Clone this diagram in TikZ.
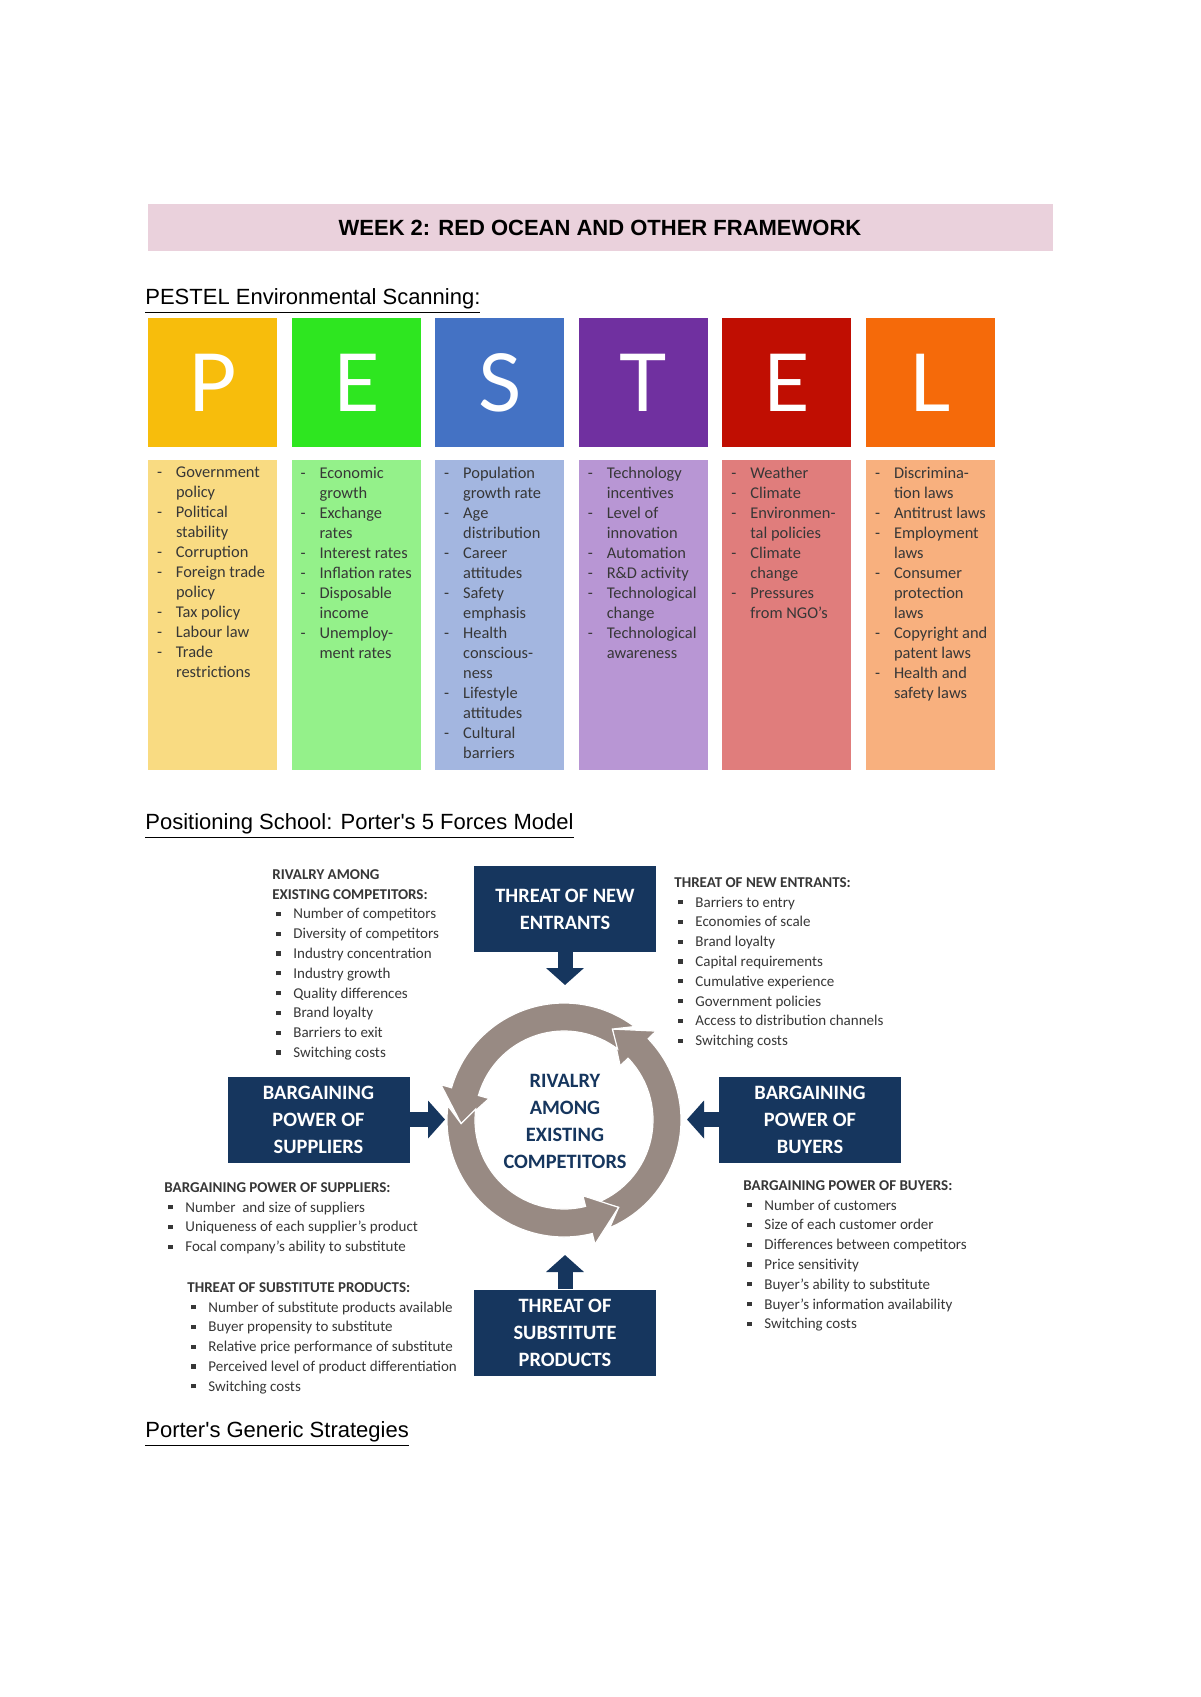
\documentclass[tikz,border=0pt]{standalone}
\usepackage{fontspec}
\setmainfont{Carlito}
\newfontfamily\arialf{Liberation Sans}
\newfontfamily\letterf{Lato}
\usepackage{tikz}
\usetikzlibrary{arrows.meta,positioning}

\definecolor{banner}{RGB}{234,209,220}
\definecolor{ptop}{RGB}{247,189,12}
\definecolor{etop}{RGB}{46,230,32}
\definecolor{stop}{RGB}{68,114,196}
\definecolor{ttop}{RGB}{112,48,160}
\definecolor{envtop}{RGB}{192,14,2}
\definecolor{ltop}{RGB}{245,106,10}
\definecolor{plow}{RGB}{249,219,130}
\definecolor{elow}{RGB}{148,241,138}
\definecolor{slow}{RGB}{163,182,224}
\definecolor{tlow}{RGB}{184,150,212}
\definecolor{envlow}{RGB}{224,125,124}
\definecolor{llow}{RGB}{248,176,126}
\definecolor{navy}{RGB}{22,54,94}
\definecolor{ringgray}{RGB}{152,138,131}
\definecolor{listgray}{RGB}{55,55,55}

\newcommand\pdash{\makebox[9.5pt][l]{-}}
\newcommand\pcont{\hspace*{9.5pt}}
\newcommand\pbul{\hspace*{2pt}\makebox[8.5pt][l]{\raisebox{1.4pt}{\rule{2.1pt}{2.1pt}}}}

\begin{document}
\begin{tikzpicture}[x=0.5pt,y=-0.5pt,>=Latex,node distance=6pt and 6.9pt,
 titlebar/.style={fill=banner,minimum width=452.5pt,minimum height=23.5pt,inner sep=0pt,font=\arialf\bfseries\fontsize{11}{13}\selectfont},
 heading/.style={anchor=west,inner sep=0pt,font=\arialf\fontsize{11}{13}\selectfont},
 lettbox/.style={minimum width=64.5pt,minimum height=64.5pt,inner sep=0pt,text=white,font=\letterf\fontsize{40}{40}\selectfont},
 listbox/.style={minimum width=64.5pt,minimum height=155pt,inner sep=0pt},
 plist/.style={align=left,inner sep=0pt,text=listgray,font=\fontsize{8.2}{10}\selectfont},
 forcebox/.style={fill=navy,text=white,align=center,minimum width=91pt,minimum height=43pt,inner sep=0pt,font=\bfseries\fontsize{10.2}{13.5}\selectfont},
 flist/.style={align=left,inner sep=0pt,anchor=north west,text=listgray,font=\fontsize{7.5}{9.9}\selectfont},
 blockarr/.style={draw=navy,line width=7.5pt,-{Triangle[width=18.5pt,length=8.5pt]}},
 ring/.style={fill=ringgray,draw=white,line width=0.6pt}]
\path[use as bounding box,fill=white] (0,0) rectangle (1200,1697);

% title and PESTEL
\node[titlebar] (title) at (600,227.5) {WEEK 2: RED OCEAN AND OTHER FRAMEWORK};
\node[heading] (pestelhd) at (145,301) {\underline{PESTEL Environmental Scanning:}};

\node[lettbox,fill=ptop] (pbox) at (212.5,382.5) {P};
\node[lettbox,fill=etop,right=of pbox] (ebox) {E};
\node[lettbox,fill=stop,right=of ebox] (sbox) {S};
\node[lettbox,fill=ttop,right=of sbox] (tbox) {T};
\node[lettbox,fill=envtop,right=of tbox] (envbox) {E};
\node[lettbox,fill=ltop,right=of envbox] (lbox) {L};

\node[listbox,fill=plow,below=of pbox] (plow) {};
\node[listbox,fill=elow,below=of ebox] (elow) {};
\node[listbox,fill=slow,below=of sbox] (slow) {};
\node[listbox,fill=tlow,below=of tbox] (tlow) {};
\node[listbox,fill=envlow,below=of envbox] (envlow) {};
\node[listbox,fill=llow,below=of lbox] (llow) {};

\node[plist,below right=3.5pt and 4.5pt of plow.north west] (plist) {\pdash Government\\\pcont policy\\\pdash Political\\\pcont stability\\\pdash Corruption\\\pdash Foreign trade\\\pcont policy\\\pdash Tax policy\\\pdash Labour law\\\pdash Trade\\\pcont restrictions};
\node[plist,below right=3.5pt and 4.5pt of elow.north west] (elist) {\pdash Economic\\\pcont growth\\\pdash Exchange\\\pcont rates\\\pdash Interest rates\\\pdash Inflation rates\\\pdash Disposable\\\pcont income\\\pdash Unemploy-\\\pcont ment rates};
\node[plist,below right=3.5pt and 4.5pt of slow.north west] (slist) {\pdash Population\\\pcont growth rate\\\pdash Age\\\pcont distribution\\\pdash Career\\\pcont attitudes\\\pdash Safety\\\pcont emphasis\\\pdash Health\\\pcont conscious-\\\pcont ness\\\pdash Lifestyle\\\pcont attitudes\\\pdash Cultural\\\pcont barriers};
\node[plist,below right=3.5pt and 4.5pt of tlow.north west] (tlist) {\pdash Technology\\\pcont incentives\\\pdash Level of\\\pcont innovation\\\pdash Automation\\\pdash R\&D activity\\\pdash Technological\\\pcont change\\\pdash Technological\\\pcont awareness};
\node[plist,below right=3.5pt and 4.5pt of envlow.north west] (envlist) {\pdash Weather\\\pdash Climate\\\pdash Environmen-\\\pcont tal policies\\\pdash Climate\\\pcont change\\\pdash Pressures\\\pcont from NGO's};
\node[plist,below right=3.5pt and 4.5pt of llow.north west] (llist) {\pdash Discrimina-\\\pcont tion laws\\\pdash Antitrust laws\\\pdash Employment\\\pcont laws\\\pdash Consumer\\\pcont protection\\\pcont laws\\\pdash Copyright and\\\pcont patent laws\\\pdash Health and\\\pcont safety laws};

% Porter's five forces
\node[heading] (porterhd) at (145,826) {\underline{Positioning School: Porter's 5 Forces Model}};

\begin{scope}[shift={(564,1120)},y=0.5pt]
\foreach \a in {0,120,240}
 \path[ring] (\a-67:117) arc[start angle=\a-67,end angle=\a+44,radius=117]
  -- (\a+44:128) -- (\a+62:103) -- (\a+44:78) -- (\a+44:89)
  arc[start angle=\a+44,end angle=\a-67,radius=89] -- (\a-58:103) -- cycle;
\end{scope}
\node[text=navy,align=center,font=\bfseries\fontsize{10.2}{13.5}\selectfont] (rival) at (565,1121) {RIVALRY\\AMONG\\EXISTING\\COMPETITORS};

\node[forcebox] (entr) at (565,909) {THREAT OF NEW\\ENTRANTS};
\node[forcebox] (supp) at (318.5,1119.5) {BARGAINING\\POWER OF\\SUPPLIERS};
\node[forcebox] (buy) at (810,1119.5) {BARGAINING\\POWER OF\\BUYERS};
\node[forcebox] (subst) at (565,1332.5) {THREAT OF\\SUBSTITUTE\\PRODUCTS};

\coordinate (entrtip) at (565,985);
\coordinate (supptip) at (445,1119.5);
\coordinate (buytip) at (687,1119.5);
\coordinate (substip) at (565,1255);
\draw[blockarr] (entr.south) -- (entrtip);
\draw[blockarr] (supp.east) -- (supptip);
\draw[blockarr] (buy.west) -- (buytip);
\draw[blockarr] (subst.north) -- (substip);

\node[flist] (rivlist) at (272,869) {\textbf{RIVALRY AMONG}\\\textbf{EXISTING COMPETITORS:}\\\pbul Number of competitors\\\pbul Diversity of competitors\\\pbul Industry concentration\\\pbul Industry growth\\\pbul Quality differences\\\pbul Brand loyalty\\\pbul Barriers to exit\\\pbul Switching costs};
\node[flist] (entrlist) at (674,877) {\textbf{THREAT OF NEW ENTRANTS:}\\\pbul Barriers to entry\\\pbul Economies of scale\\\pbul Brand loyalty\\\pbul Capital requirements\\\pbul Cumulative experience\\\pbul Government policies\\\pbul Access to distribution channels\\\pbul Switching costs};
\node[flist] (supplist) at (164,1182) {\textbf{BARGAINING POWER OF SUPPLIERS:}\\\pbul Number\ \ and size of suppliers\\\pbul Uniqueness of each supplier's product\\\pbul Focal company's ability to substitute};
\node[flist] (substlist) at (187,1282) {\textbf{THREAT OF SUBSTITUTE PRODUCTS:}\\\pbul Number of substitute products available\\\pbul Buyer propensity to substitute\\\pbul Relative price performance of substitute\\\pbul Perceived level of product differentiation\\\pbul Switching costs};
\node[flist] (buylist) at (743,1180) {\textbf{BARGAINING POWER OF BUYERS:}\\\pbul Number of customers\\\pbul Size of each customer order\\\pbul Differences between competitors\\\pbul Price sensitivity\\\pbul Buyer's ability to substitute\\\pbul Buyer's information availability\\\pbul Switching costs};

\node[heading] (generichd) at (145,1434) {\underline{Porter's Generic Strategies}};
\end{tikzpicture}
\end{document}
